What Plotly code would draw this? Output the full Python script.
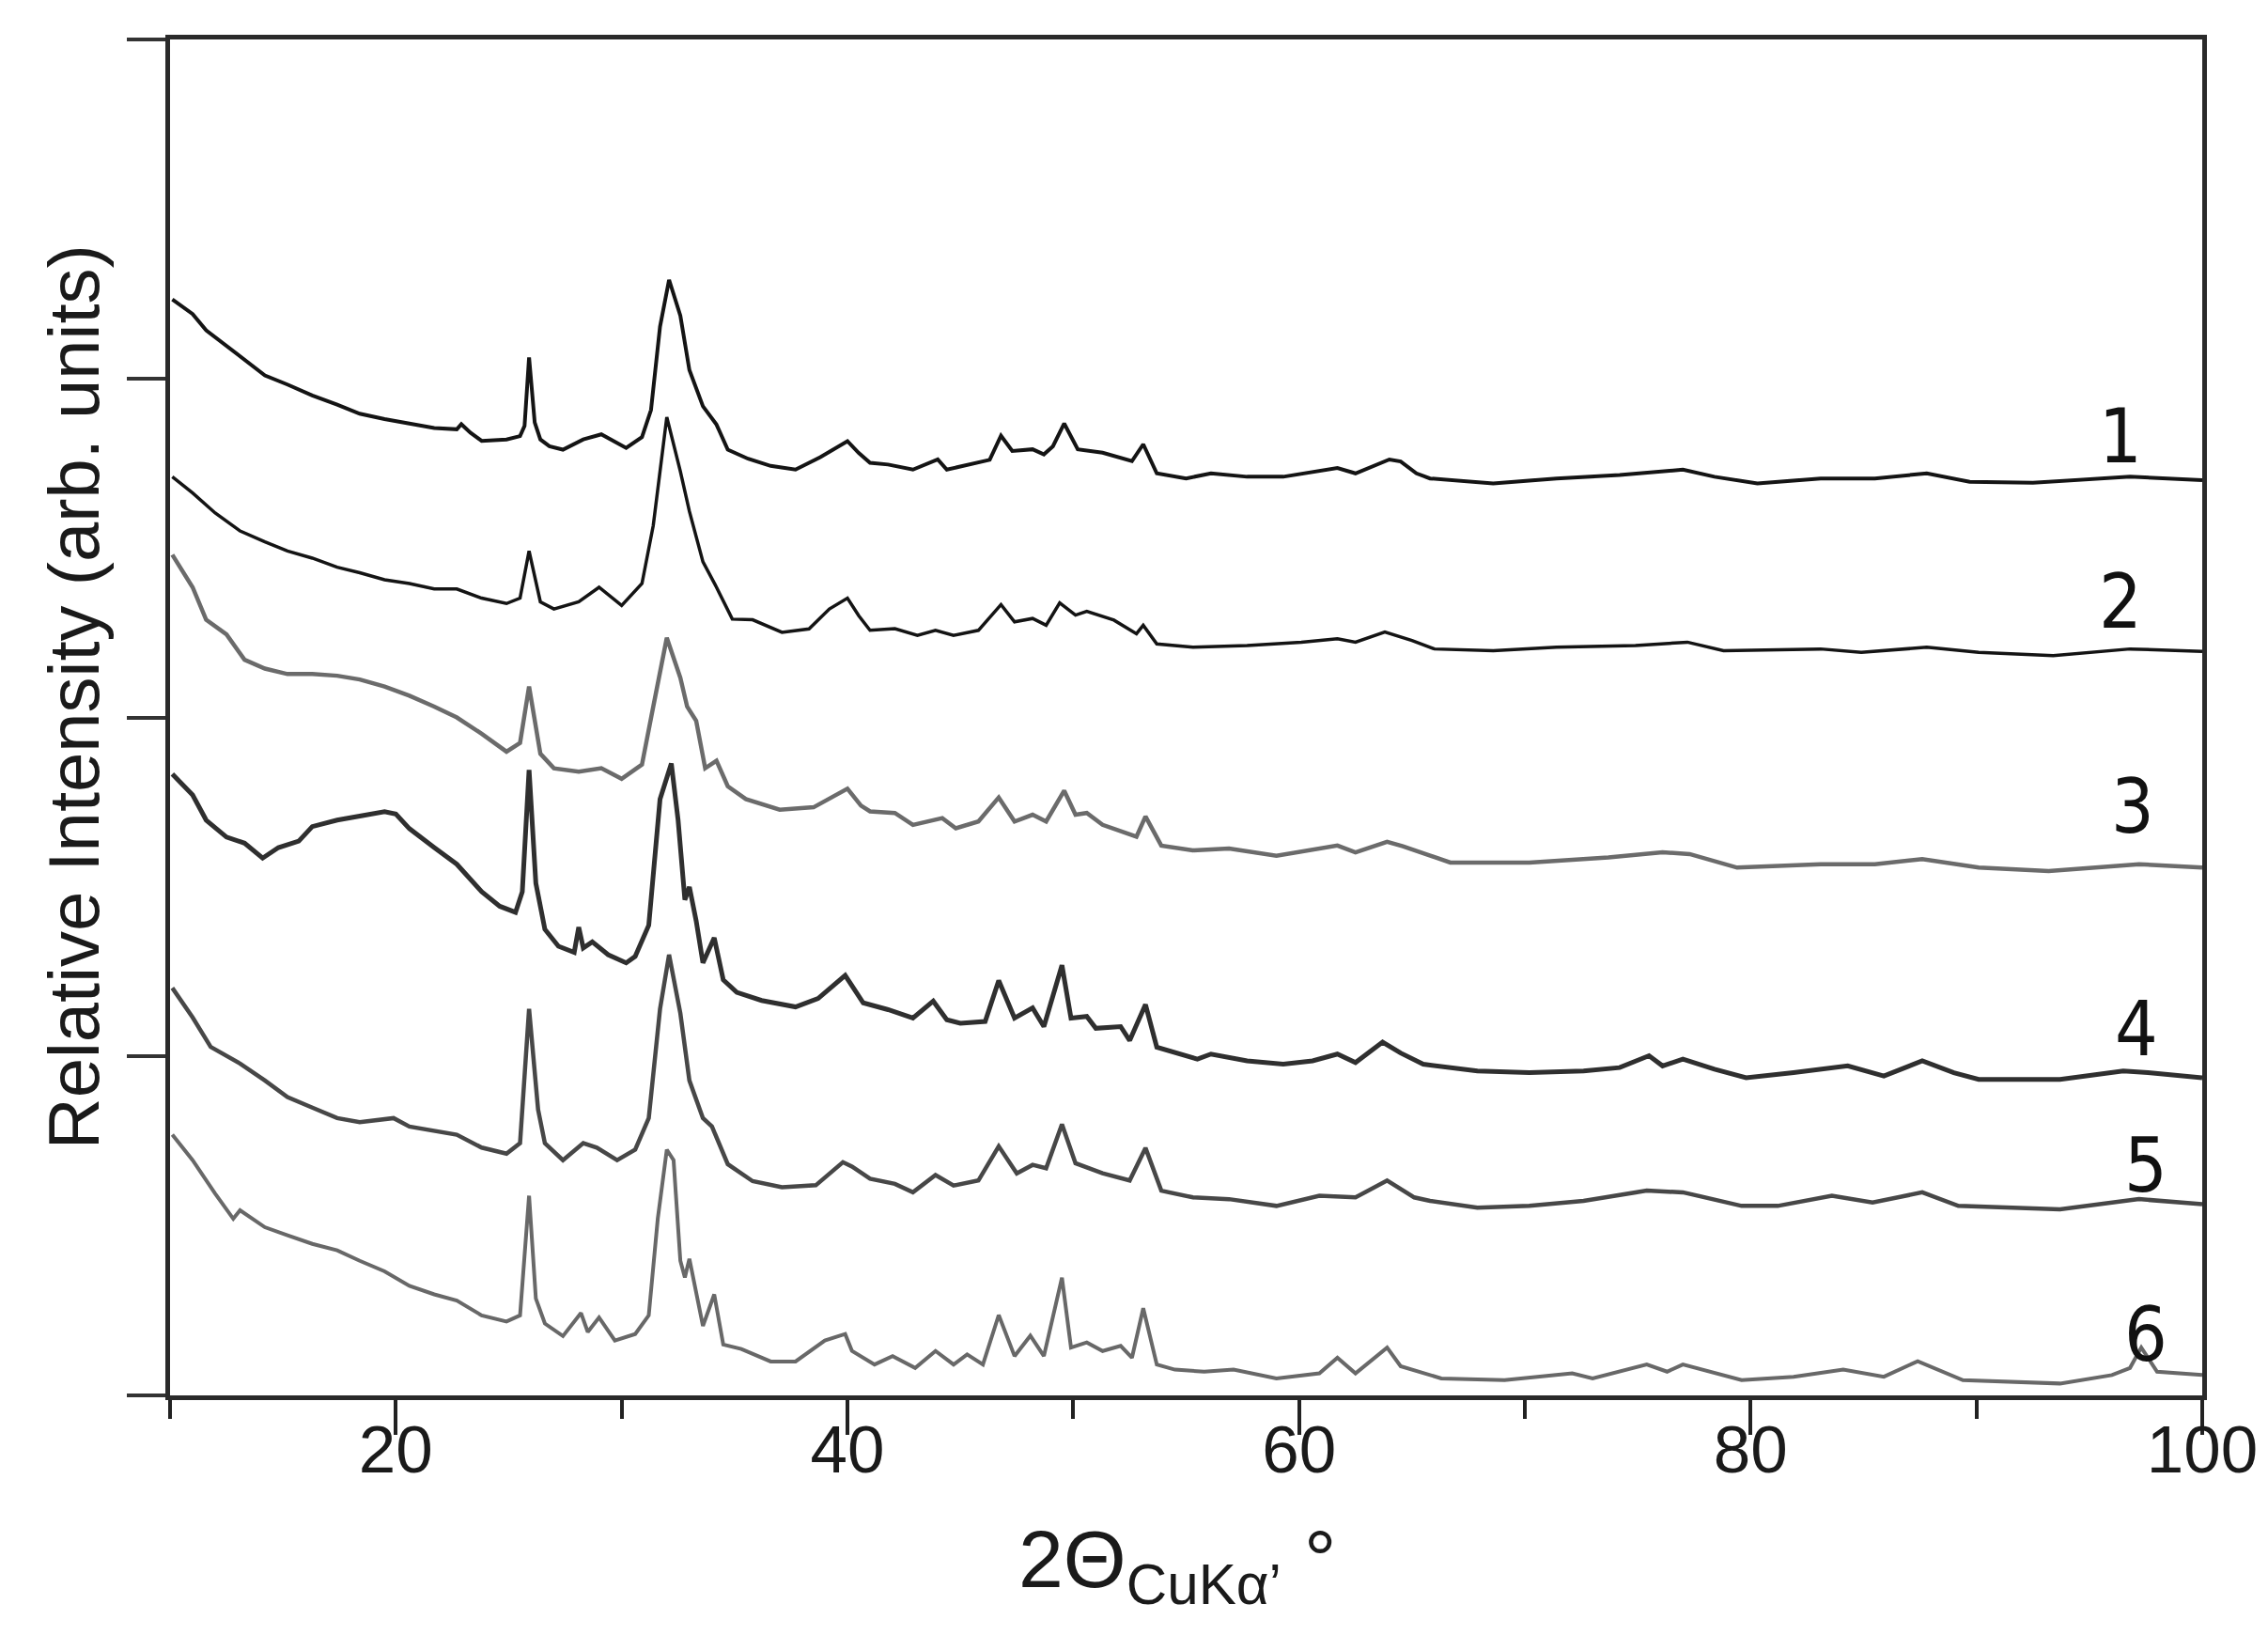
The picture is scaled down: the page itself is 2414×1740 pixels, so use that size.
import plotly.graph_objects as go

# values, offset already included (one y unit = one tick step)
tt1 = [10.1, 11.0, 11.6, 13.1, 14.2, 15.2, 16.3, 17.4, 18.4, 19.5, 20.6, 21.7, 22.7, 22.9, 23.3, 23.8,
       24.9, 25.5, 25.7, 25.9, 26.15, 26.4, 26.8, 27.4, 28.3, 29.1, 30.2, 30.9, 31.3, 31.7, 32.1, 32.6,
       33.0, 33.6, 34.2, 34.7, 35.6, 36.6, 37.7, 38.8, 40.0, 40.5, 41.0, 41.8, 42.9, 44.0, 44.4, 45.8,
       46.3, 46.8, 47.3, 48.2, 48.7, 49.1, 49.6, 50.2, 51.3, 52.6, 53.1, 53.7, 55.0, 56.1, 57.7, 59.3,
       61.7, 62.5, 64.0, 64.5, 65.2, 65.8, 68.6, 71.4, 74.2, 77.0, 78.4, 80.3, 83.1, 85.5, 87.8, 89.7,
       92.5, 96.8, 100]
int1 = [3.233, 3.19, 3.142, 3.067, 3.009, 2.982, 2.95, 2.923, 2.896, 2.88, 2.867, 2.854, 2.85, 2.865, 2.84, 2.816,
        2.82, 2.83, 2.86, 3.062, 2.87, 2.82, 2.80, 2.79, 2.82, 2.835, 2.795, 2.827, 2.907, 3.153, 3.291, 3.185,
        3.025, 2.918, 2.864, 2.79, 2.763, 2.742, 2.731, 2.768, 2.815, 2.78, 2.751, 2.746, 2.731, 2.761, 2.731, 2.751,
        2.76, 2.831, 2.786, 2.791, 2.776, 2.80, 2.867, 2.791, 2.781, 2.756, 2.806, 2.72, 2.705, 2.72, 2.71, 2.71,
        2.736, 2.72, 2.761, 2.755, 2.72, 2.705, 2.69, 2.705, 2.715, 2.731, 2.71, 2.69, 2.705, 2.705, 2.72, 2.695,
        2.692, 2.71, 2.70]

tt2 = [10.1, 11.0, 12.0, 13.1, 14.2, 15.2, 16.3, 17.4, 18.4, 19.5, 20.6, 21.7, 22.7, 23.8, 24.9, 25.5,
       25.9, 26.4, 27.0, 28.1, 29.0, 30.0, 30.9, 31.4, 32.0, 32.6, 33.0, 33.6, 34.2, 34.9, 35.8, 37.1,
       38.3, 39.2, 40.0, 40.5, 41.0, 42.1, 43.1, 43.9, 44.7, 45.8, 46.8, 47.4, 48.2, 48.8, 49.4, 50.1,
       50.6, 51.8, 52.8, 53.1, 53.7, 55.3, 57.7, 60.1, 61.7, 62.5, 63.8, 65.0, 66.0, 68.6, 71.4, 74.9,
       77.2, 78.8, 83.1, 84.9, 87.8, 90.1, 93.4, 96.8, 100]
int2 = [2.71, 2.662, 2.603, 2.55, 2.518, 2.491, 2.47, 2.443, 2.427, 2.406, 2.395, 2.379, 2.379, 2.352, 2.336, 2.352,
        2.491, 2.341, 2.32, 2.341, 2.384, 2.33, 2.395, 2.566, 2.886, 2.726, 2.608, 2.459, 2.384, 2.29, 2.288, 2.251,
        2.261, 2.32, 2.352, 2.30, 2.257, 2.262, 2.242, 2.257, 2.242, 2.257, 2.333, 2.282, 2.292, 2.272, 2.338, 2.302,
        2.313, 2.287, 2.247, 2.272, 2.217, 2.207, 2.212, 2.222, 2.232, 2.222, 2.252, 2.227, 2.202, 2.197, 2.207, 2.212,
        2.222, 2.197, 2.202, 2.192, 2.207, 2.192, 2.182, 2.202, 2.195]

tt3 = [10.1, 11.0, 11.6, 12.5, 13.3, 14.2, 15.2, 16.3, 17.4, 18.4, 19.5, 20.6, 21.7, 22.7, 23.8, 24.9,
       25.5, 25.9, 26.4, 27.0, 28.1, 29.1, 30.0, 30.9, 31.4, 32.0, 32.6, 32.9, 33.3, 33.7, 34.2, 34.7,
       35.5, 37.0, 38.5, 40.0, 40.6, 41.0, 42.1, 42.9, 44.2, 44.8, 45.8, 46.7, 47.4, 48.2, 48.8, 49.6,
       50.1, 50.6, 51.3, 52.8, 53.2, 53.9, 55.3, 56.9, 59.0, 61.7, 62.5, 63.9, 64.6, 66.7, 70.2, 73.7,
       76.1, 77.3, 79.4, 83.1, 85.5, 87.6, 90.1, 93.2, 97.2, 100]
int3 = [2.48, 2.384, 2.288, 2.245, 2.17, 2.144, 2.128, 2.128, 2.123, 2.112, 2.091, 2.064, 2.032, 2.0, 1.952, 1.899,
        1.925, 2.091, 1.893, 1.85, 1.84, 1.85, 1.819, 1.861, 2.032, 2.235, 2.117, 2.032, 1.99, 1.85, 1.872, 1.797,
        1.759, 1.728, 1.735, 1.79, 1.74, 1.723, 1.718, 1.683, 1.703, 1.673, 1.693, 1.764, 1.693, 1.713, 1.693, 1.784,
        1.713, 1.718, 1.683, 1.648, 1.708, 1.622, 1.608, 1.613, 1.592, 1.622, 1.602, 1.633, 1.62, 1.572, 1.572, 1.587,
        1.602, 1.597, 1.557, 1.567, 1.567, 1.582, 1.557, 1.547, 1.567, 1.557]

tt4 = [10.1, 11.0, 11.6, 12.5, 13.3, 14.1, 14.8, 15.7, 16.3, 17.4, 18.4, 19.5, 20.0, 20.6, 21.7, 22.7,
       23.8, 24.6, 25.3, 25.6, 25.9, 26.2, 26.6, 27.2, 27.9, 28.1, 28.3, 28.7, 29.4, 30.2, 30.6, 31.2,
       31.7, 32.2, 32.5, 32.8, 33.0, 33.3, 33.6, 34.1, 34.5, 35.1, 36.2, 37.7, 38.7, 39.9, 40.7, 41.8,
       42.9, 43.8, 44.4, 45.0, 46.1, 46.7, 47.4, 48.2, 48.7, 49.5, 49.9, 50.6, 51.0, 52.1, 52.5, 53.2,
       53.7, 54.5, 55.5, 56.1, 57.7, 59.3, 60.6, 61.7, 62.5, 63.7, 64.5, 65.5, 67.9, 70.2, 72.6, 74.2,
       75.5, 76.1, 77.0, 78.4, 79.8, 81.9, 84.3, 85.9, 87.6, 89.0, 90.1, 93.7, 96.5, 97.6, 100]
int4 = [1.833, 1.771, 1.697, 1.647, 1.629, 1.585, 1.616, 1.635, 1.678, 1.697, 1.709, 1.722, 1.715, 1.672, 1.616, 1.567,
        1.486, 1.443, 1.425, 1.486, 1.845, 1.511, 1.375, 1.325, 1.307, 1.381, 1.32, 1.338, 1.30, 1.276, 1.295, 1.387,
        1.759, 1.864, 1.697, 1.462, 1.50, 1.40, 1.276, 1.35, 1.226, 1.189, 1.165, 1.146, 1.171, 1.239, 1.158, 1.138,
        1.113, 1.163, 1.108, 1.098, 1.103, 1.224, 1.113, 1.143, 1.088, 1.269, 1.113, 1.118, 1.083, 1.088, 1.047, 1.153,
        1.027, 1.012, 0.992, 1.007, 0.987, 0.977, 0.987, 1.007, 0.982, 1.042, 1.01, 0.977, 0.957, 0.952, 0.957, 0.967,
        1.002, 0.972, 0.992, 0.962, 0.937, 0.952, 0.972, 0.942, 0.987, 0.952, 0.932, 0.932, 0.957, 0.952, 0.937]

tt5 = [10.1, 11.0, 11.8, 13.1, 14.2, 15.2, 16.3, 17.4, 18.4, 19.9, 20.6, 21.7, 22.7, 23.8, 24.9, 25.5,
       25.9, 26.3, 26.6, 27.4, 28.3, 28.9, 29.8, 30.6, 31.2, 31.7, 32.1, 32.6, 33.0, 33.6, 34.0, 34.7,
       35.8, 37.1, 38.6, 39.8, 40.2, 41.0, 42.1, 42.9, 43.9, 44.7, 45.8, 46.7, 47.5, 48.2, 48.8, 49.5,
       50.1, 51.3, 52.5, 53.2, 53.9, 55.3, 56.9, 59.0, 60.9, 62.5, 63.9, 65.1, 65.8, 67.9, 70.2, 72.6,
       75.4, 77.0, 79.6, 81.2, 83.6, 85.4, 87.6, 89.2, 93.7, 97.2, 100]
int5 = [1.202, 1.115, 1.028, 0.979, 0.929, 0.88, 0.849, 0.818, 0.806, 0.818, 0.793, 0.781, 0.769, 0.731, 0.713, 0.744,
        1.14, 0.843, 0.744, 0.694, 0.744, 0.731, 0.694, 0.725, 0.818, 1.14, 1.30, 1.127, 0.929, 0.818, 0.793, 0.682,
        0.632, 0.614, 0.62, 0.688, 0.675, 0.639, 0.624, 0.599, 0.65, 0.619, 0.634, 0.735, 0.655, 0.68, 0.67, 0.80,
        0.685, 0.655, 0.634, 0.73, 0.604, 0.584, 0.579, 0.559, 0.589, 0.584, 0.634, 0.584, 0.574, 0.554, 0.559, 0.574,
        0.604, 0.599, 0.559, 0.559, 0.589, 0.569, 0.599, 0.559, 0.549, 0.579, 0.564]

tt6 = [10.1, 11.0, 12.0, 12.8, 13.1, 14.2, 15.2, 16.3, 17.4, 18.4, 19.5, 20.6, 21.7, 22.7, 23.8, 24.9,
       25.5, 25.9, 26.2, 26.6, 27.4, 28.2, 28.5, 29.0, 29.7, 30.6, 31.2, 31.6, 32.0, 32.3, 32.6, 32.8,
       33.0, 33.3, 33.6, 34.1, 34.5, 35.3, 36.6, 37.7, 39.0, 39.9, 40.2, 41.2, 42.0, 43.0, 43.9, 44.7,
       45.3, 46.0, 46.7, 47.4, 48.1, 48.7, 49.5, 49.9, 50.6, 51.3, 52.1, 52.6, 53.1, 53.7, 54.5, 55.8,
       57.1, 59.0, 60.9, 61.7, 62.5, 63.9, 64.5, 66.3, 69.1, 72.1, 73.0, 75.4, 76.3, 77.0, 79.6, 81.9,
       84.1, 85.9, 87.4, 89.4, 93.7, 96.0, 96.8, 97.3, 98.0, 100]
int6 = [0.769, 0.694, 0.595, 0.521, 0.546, 0.496, 0.472, 0.447, 0.428, 0.397, 0.366, 0.323, 0.298, 0.28, 0.236, 0.218,
        0.236, 0.589, 0.286, 0.212, 0.175, 0.243, 0.187, 0.23, 0.162, 0.181, 0.236, 0.521, 0.725, 0.694, 0.397, 0.348,
        0.403, 0.298, 0.205, 0.298, 0.15, 0.137, 0.10, 0.10, 0.162, 0.181, 0.131, 0.091, 0.116, 0.081, 0.131, 0.091,
        0.121, 0.091, 0.237, 0.116, 0.176, 0.116, 0.347, 0.141, 0.156, 0.131, 0.146, 0.111, 0.257, 0.091, 0.076, 0.07,
        0.076, 0.05, 0.065, 0.111, 0.065, 0.141, 0.086, 0.05, 0.045, 0.065, 0.05, 0.091, 0.07, 0.091, 0.045, 0.055,
        0.076, 0.055, 0.101, 0.045, 0.035, 0.06, 0.081, 0.141, 0.07, 0.06]

labels = ["1", "2", "3", "4", "5", "6"]
label_x = [96.4, 96.4, 96.9, 97.1, 97.5, 97.5]
label_y = [2.83, 2.342, 1.738, 1.081, 0.679, 0.180]

series = [(tt1, int1), (tt2, int2), (tt3, int3), (tt4, int4), (tt5, int5), (tt6, int6)]
colors = ["#141414", "#141414", "#6b6b6b", "#2f2f2f", "#474747", "#686868"]
widths = [4, 3.5, 4.5, 5, 4.5, 4]

fig = go.Figure()
for i in range(len(series)):
    fig.add_trace(go.Scatter(x=series[i][0], y=series[i][1], mode="lines",
                             line=dict(color=colors[i], width=widths[i])))

for i in range(len(labels)):
    fig.add_annotation(x=label_x[i], y=label_y[i], text=labels[i], showarrow=False,
                       xanchor="center", yanchor="middle",
                       font=dict(family="DejaVu Sans Condensed, DejaVu Sans", size=80, color="#111111"))

fig.add_annotation(x=-0.047, y=0.515, xref="paper", yref="paper", text="Relative Intensity (arb. units)",
                   textangle=-90, showarrow=False, xanchor="center", yanchor="middle",
                   font=dict(family="Liberation Sans, Arial", size=76, color="#1a1a1a"))
fig.add_annotation(x=0.4956, y=-0.086, xref="paper", yref="paper", text="2Θ<sub>CuKα’</sub> °",
                   showarrow=False, xanchor="center", yanchor="top",
                   font=dict(family="Liberation Sans, Arial", size=86, color="#1a1a1a"))

fig.update_layout(
    width=2414, height=1740,
    margin=dict(l=173, r=78, t=34, b=263),
    paper_bgcolor="white", plot_bgcolor="white",
    showlegend=False,
)
fig.update_xaxes(range=[10, 100], tick0=0, dtick=20, ticks="outside", ticklen=37, tickwidth=4,
                 tickcolor="#222222", showline=True, linewidth=5, linecolor="#2a2a2a", mirror=True,
                 showgrid=False, zeroline=False, ticklabelstandoff=-45,
                 tickfont=dict(family="Liberation Sans, Arial", size=71, color="#1a1a1a"),
                 minor=dict(dtick=10, tick0=0, ticks="outside", ticklen=20, tickwidth=4, tickcolor="#222222"))
fig.update_yaxes(range=[0, 4], dtick=1, ticks="outside", ticklen=41, tickwidth=4, tickcolor="#333333",
                 showticklabels=False, showline=True, linewidth=5, linecolor="#2a2a2a", mirror=True,
                 showgrid=False, zeroline=False)

fig.write_html("out.html")
